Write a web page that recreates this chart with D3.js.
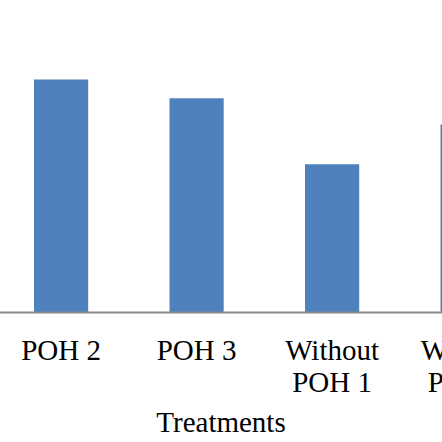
<!DOCTYPE html>
<html>
<head>
<meta charset="utf-8">
<script src="https://cdn.jsdelivr.net/npm/d3@7"></script>
<style>
html,body{margin:0;padding:0;background:#fff;overflow:hidden;}
svg{display:block;}
</style>
</head>
<body>
<svg id="chart" width="442" height="442"></svg>
<script>
const categories = ["POH 2", "POH 3", "Without POH 1", "Without POH 2"];
const tickLines = [["POH 2"], ["POH 3"], ["Without", "POH 1"], ["Without", "POH 2"]];
const values = [3.1, 2.85, 1.97, 2.5];
const yDomain = [0, 4];
const xTitle = "Treatments";

const svg = d3.select("#chart");
const baseY = 312;
const x = d3.scaleBand().domain(categories).range([-6.65, 535.35]).paddingInner(0.6).paddingOuter(0.3);
const y = d3.scaleLinear().domain(yDomain).range([baseY, 12]);

svg.append("g").selectAll("rect").data(values).join("rect")
  .attr("x", (d, i) => x(categories[i]))
  .attr("width", x.bandwidth())
  .attr("y", d => y(d))
  .attr("height", d => baseY - y(d))
  .attr("fill", "#4F81BD");

const axis = svg.append("g").attr("transform", `translate(0,${baseY})`)
  .call(d3.axisBottom(x).tickSize(0).tickSizeOuter(0).tickFormat(""));
axis.select(".domain").attr("stroke", "#898989").attr("stroke-width", 2);
axis.selectAll(".tick text").remove();
axis.selectAll(".tick").each(function(d) {
  const i = categories.indexOf(d);
  const t = d3.select(this).append("text")
    .attr("fill", "#000")
    .attr("font-family", "'Liberation Serif','Times New Roman',serif")
    .attr("font-size", 29)
    .attr("text-anchor", "middle");
  tickLines[i].forEach((ln, k) => {
    t.append("tspan").attr("x", 0).attr("y", 48 + k * 32).text(ln);
  });
});

svg.append("text")
  .attr("x", 221).attr("y", 432)
  .attr("text-anchor", "middle")
  .attr("font-family", "'Liberation Serif','Times New Roman',serif")
  .attr("font-size", 29)
  .attr("fill", "#000")
  .text(xTitle);
</script>
</body>
</html>
